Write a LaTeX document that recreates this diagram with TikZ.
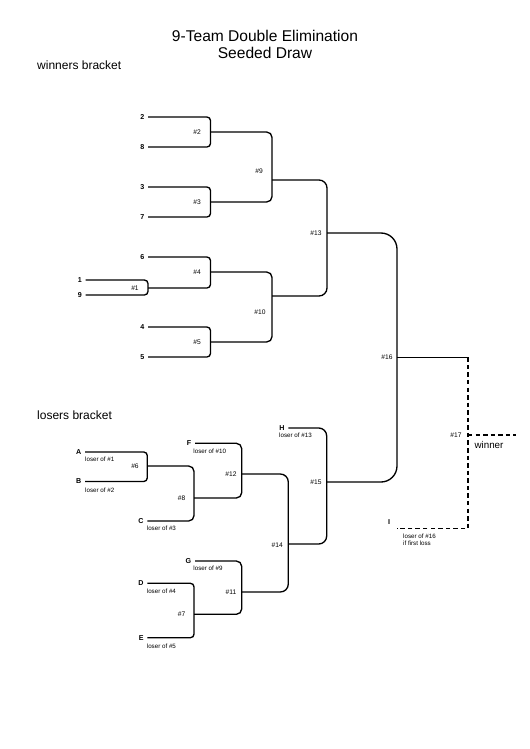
\documentclass[tikz,border=0pt]{standalone}
\usepackage{fontspec}
\setmainfont{Liberation Sans}
\usepackage{tikz}
\tikzset{team/.style={anchor=east,inner xsep=4pt,inner ysep=0pt,font=\fontsize{8}{9}\selectfont\bfseries},
game/.style={inner sep=0pt,font=\fontsize{7.5}{9}\selectfont},
lost/.style={anchor=west,inner sep=0pt,align=left,font=\fontsize{7}{8.2}\selectfont},
bk/.style={line width=1.5pt,rounded corners=4pt},
opt/.style={line width=1.5pt,sharp corners,dash pattern=on 5pt off 3.5pt}}

\begin{document}
\begin{tikzpicture}[x=1.124pt,y=-1.124pt]
\useasboundingbox (0,0) rectangle (530,749);
\node (title1) at (265,36) [inner sep=0pt,font=\fontsize{17.5}{20}\selectfont] {9-Team Double Elimination};
\node (title2) at (265,53) [inner sep=0pt,font=\fontsize{17.5}{20}\selectfont] {Seeded Draw};
\node (wb) at (37,65) [anchor=west,inner sep=0pt,font=\fontsize{13.5}{16}\selectfont] {winners bracket};
\node (lb) at (37,415) [anchor=west,inner sep=0pt,font=\fontsize{13.5}{16}\selectfont] {losers bracket};

\node (t2) at (148,117) [team] {2};
\node (t8) at (148,147) [team] {8};
\node (t3) at (148,187) [team] {3};
\node (t7) at (148,217) [team] {7};
\node (t6) at (148,257) [team] {6};
\node (t1) at (85.5,280) [team] {1};
\node (t9) at (85.5,295) [team] {9};
\node (t4) at (148,327) [team] {4};
\node (t5) at (148,357) [team] {5};

\coordinate (m1) at (148,288);
\coordinate (m2) at (210.5,132);
\coordinate (m3) at (210.5,202);
\coordinate (m4) at (210.5,272);
\coordinate (m5) at (210.5,342);
\coordinate (m9) at (272,180);
\coordinate (m10) at (272,296);
\coordinate (m13) at (327,233);
\coordinate (m16) at (397,357.3);

\node (g1) at (135,288) [game] {\#1};
\node (g2) at (197,132) [game] {\#2};
\node (g3) at (197,202) [game] {\#3};
\node (g4) at (197,272) [game] {\#4};
\node (g5) at (197,342) [game] {\#5};
\node (g9) at (259,171) [game] {\#9};
\node (g10) at (260,312) [game] {\#10};
\node (g13) at (316,233) [game] {\#13};
\node (g16) at (387,357) [game] {\#16};
\node (g17) at (456,435) [game] {\#17};

\node (tA) at (85,452) [team] {A};
\node (tB) at (85,481.5) [team] {B};
\node (tC) at (147.3,521) [team] {C};
\node (tD) at (147.3,583.3) [team] {D};
\node (tE) at (147.3,637.7) [team] {E};
\node (tF) at (195,443.3) [team] {F};
\node (tG) at (195,561) [team] {G};
\node (tH) at (288.3,428) [team] {H};
\node (tI) at (389,521.7) [team,anchor=center,inner xsep=0pt] {I};

\node (lA) at (85,459.5) [lost] {loser of \#1};
\node (lB) at (85,490) [lost] {loser of \#2};
\node (lC) at (146.7,528.3) [lost] {loser of \#3};
\node (lF) at (193.3,451.7) [lost] {loser of \#10};
\node (lG) at (193.3,568.3) [lost] {loser of \#9};
\node (lD) at (146.7,591.7) [lost] {loser of \#4};
\node (lE) at (146.7,646) [lost] {loser of \#5};
\node (lH) at (279,435.7) [lost] {loser of \#13};
\node (lI) at (403,539.7) [lost] {loser of \#16\\if first loss};

\coordinate (m6) at (147.3,466);
\coordinate (m8) at (194,498);
\coordinate (m7) at (194,614.3);
\coordinate (m12) at (241.7,474);
\coordinate (m11) at (241.7,592);
\coordinate (m14) at (288.3,544);
\coordinate (m15) at (326.7,482);

\node (g6) at (135,466) [game] {\#6};
\node (g8) at (181.7,498.5) [game] {\#8};
\node (g7) at (181.7,614.3) [game] {\#7};
\node (g12) at (231,474) [game] {\#12};
\node (g11) at (231,592) [game] {\#11};
\node (g14) at (277.3,545) [game] {\#14};
\node (g15) at (316,482) [game] {\#15};

\coordinate (c16) at (468,357.3);
\coordinate (m17) at (468,435);
\coordinate (cw) at (516,435);
\coordinate (cI) at (397,528.5);
\node (win) at (489,445) [inner sep=0pt,font=\fontsize{11}{13}\selectfont] {winner};

\draw[bk] (t2) -| (m2) |- (t8);
\draw[bk] (t3) -| (m3) |- (t7);
\draw[bk] (t1) -| (m1) |- (t9);
\draw[bk] (t6) -| (m4) |- (m1);
\draw[bk] (t4) -| (m5) |- (t5);
\draw[bk,rounded corners=6pt] (m2) -| (m9) |- (m3);
\draw[bk,rounded corners=6pt] (m4) -| (m10) |- (m5);
\draw[bk,rounded corners=9pt] (m9) -| (m13) |- (m10);
\draw[bk,rounded corners=18pt] (m13) -| (m16) |- (m15);

\draw[bk] (tA) -| (m6) |- (tB);
\draw[bk,rounded corners=6pt] (m6) -| (m8) |- (tC);
\draw[bk] (tD) -| (m7) |- (tE);
\draw[bk,rounded corners=6pt] (tF) -| (m12) |- (m8);
\draw[bk,rounded corners=6pt] (tG) -| (m11) |- (m7);
\draw[bk,rounded corners=9pt] (m12) -| (m14) |- (m11);
\draw[bk,rounded corners=9pt] (tH) -| (m15) |- (m14);

\draw[bk] (m16) -- (c16);
\draw[opt] (c16) |- (cI);
\draw[opt] (m17) -- (cw);
\end{tikzpicture}
\end{document}
